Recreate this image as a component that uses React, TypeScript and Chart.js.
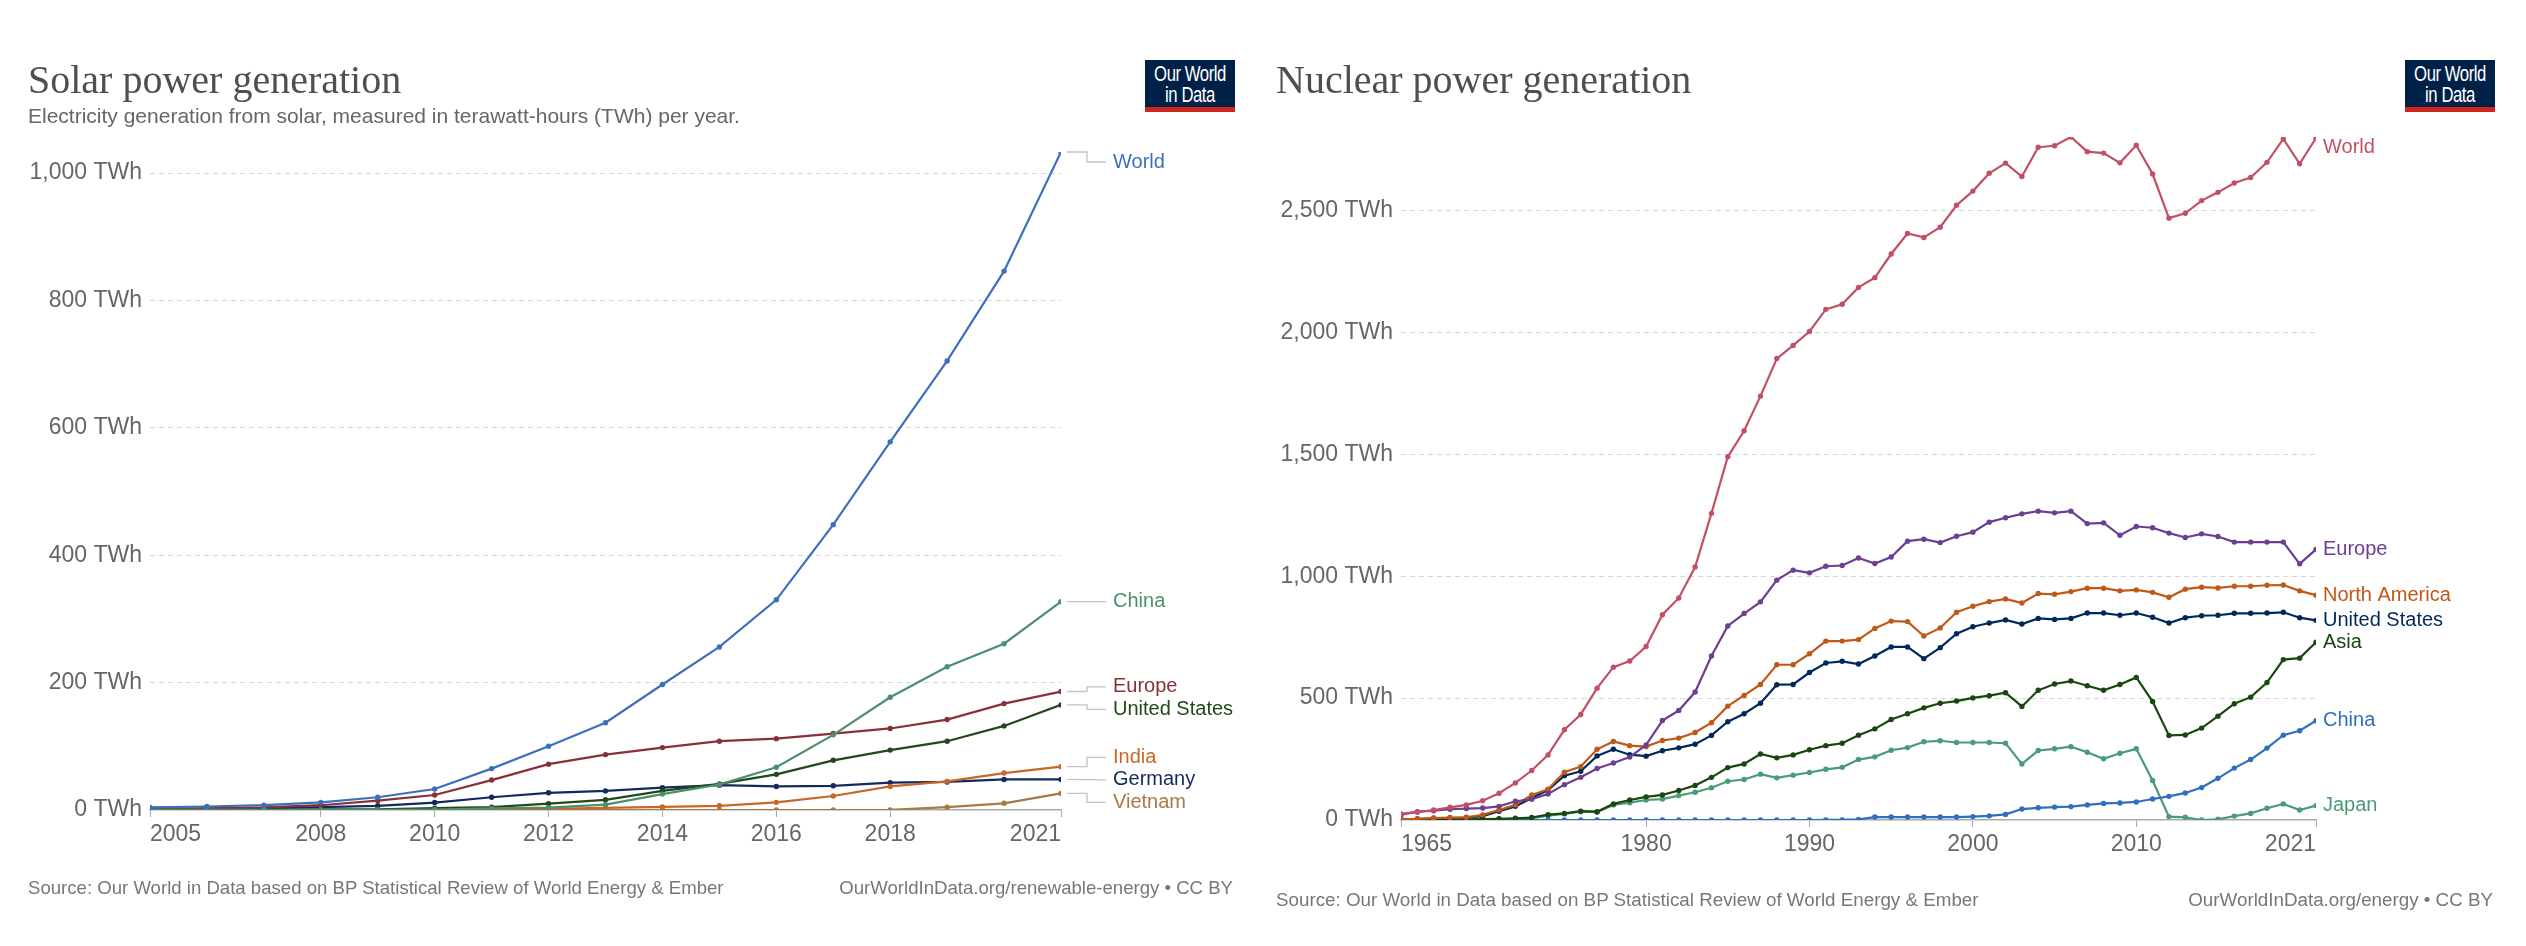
import React, { useEffect, useRef } from "react";
import { Chart, registerables } from "chart.js";

Chart.register(...registerables);

const SANS = '"Liberation Sans", Arial, Helvetica, sans-serif';
const SERIF = '"Liberation Serif", "Times New Roman", serif';

// ---------------- Solar data ----------------
const solarYears = [2005, 2006, 2007, 2008, 2009, 2010, 2011, 2012, 2013, 2014, 2015, 2016, 2017, 2018, 2019, 2020, 2021];
const solarTicks = [2005, 2008, 2010, 2012, 2014, 2016, 2018, 2021];
const solarYTicks = [0, 200, 400, 600, 800, 1000];
const solarWorld = [4, 5.5, 7.6, 12, 20, 33, 65, 100, 137, 197, 256, 330, 448, 578, 705, 846, 1033];
const solarChina = [0.1, 0.1, 0.1, 0.2, 0.3, 0.7, 2.6, 3.6, 8.4, 25, 40, 67, 118, 177, 225, 261, 327];
const solarEurope = [1.5, 2.6, 4, 7.5, 14.6, 23.5, 47, 72, 87, 98, 108, 112, 120, 128, 142, 167, 186];
const solarUS = [0.6, 0.7, 0.8, 0.9, 1.2, 3, 4.5, 10, 16, 30, 41, 56, 78, 94, 108, 132, 165];
const solarIndia = [0, 0, 0, 0, 0, 0.1, 0.6, 2, 3.4, 4.9, 6.6, 12, 22, 37, 45, 58, 68];
const solarGermany = [1.3, 2.2, 3.1, 4.4, 6.6, 11.7, 20, 27, 30, 35, 39, 37, 38, 43, 44, 48, 48];
const solarVietnam = [0, 0, 0, 0, 0, 0, 0, 0, 0, 0, 0, 0, 0, 0.1, 4.5, 10.5, 26];

// ---------------- Nuclear data ----------------
const nuclearYears = [
  1965, 1966, 1967, 1968, 1969, 1970, 1971, 1972, 1973, 1974,
  1975, 1976, 1977, 1978, 1979, 1980, 1981, 1982, 1983, 1984,
  1985, 1986, 1987, 1988, 1989, 1990, 1991, 1992, 1993, 1994,
  1995, 1996, 1997, 1998, 1999, 2000, 2001, 2002, 2003, 2004,
  2005, 2006, 2007, 2008, 2009, 2010, 2011, 2012, 2013, 2014,
  2015, 2016, 2017, 2018, 2019, 2020, 2021,
];
const nuclearTicks = [1965, 1980, 1990, 2000, 2010, 2021];
const nuclearYTicks = [0, 500, 1000, 1500, 2000, 2500];
const nuclearWorld = [
  25, 32, 41, 52, 62, 79, 110, 152, 203, 267,
  370, 433, 541, 627, 652, 712, 842, 911, 1038, 1258,
  1490, 1597, 1739, 1893, 1947, 2004, 2095, 2116, 2185, 2225,
  2322, 2406, 2390, 2432, 2522, 2580, 2653, 2695, 2640, 2760,
  2766, 2802, 2742, 2736, 2696, 2768, 2650, 2469, 2489, 2541,
  2575, 2613, 2636, 2698, 2794, 2692, 2798,
];
const nuclearEurope = [
  22, 34, 38, 44, 47, 49, 56, 77, 85, 107,
  145, 175, 211, 234, 258, 308, 408, 449, 525, 673,
  796, 847, 895, 984, 1025, 1014, 1041, 1044, 1075, 1052,
  1079, 1144, 1152, 1138, 1164, 1181, 1222, 1240, 1256, 1267,
  1260, 1267, 1216, 1219, 1168, 1204, 1199, 1177, 1159, 1174,
  1163, 1140, 1140, 1140, 1140, 1051, 1110,
];
const nuclearNorthAmerica = [
  4, 5, 8, 10, 11, 21, 41, 62, 103, 126,
  196, 219, 290, 322, 305, 301, 326, 336, 359, 399,
  467, 511, 556, 637, 637, 682, 734, 734, 740, 786,
  816, 814, 755, 788, 852, 877, 896, 907, 890, 929,
  926, 937, 951, 951, 940, 944, 934, 914, 947, 955,
  952, 959, 959, 963, 964, 940, 922,
];
const nuclearUS = [
  3, 4, 7, 8, 10, 16, 36, 56, 90, 123,
  182, 200, 263, 290, 268, 262, 284, 296, 311, 347,
  403, 436, 479, 555, 556, 605, 644, 651, 640, 673,
  710, 710, 662, 707, 764, 793, 808, 821, 804, 827,
  823, 827, 849, 849, 840, 849, 832, 808, 830, 838,
  840, 848, 848, 849, 852, 830, 819,
];
const nuclearAsia = [
  1, 1, 1, 3, 3, 4, 5, 7, 10, 22,
  27, 36, 34, 66, 82, 95, 103, 121, 142, 175,
  215, 230, 271, 255, 267, 288, 305, 315, 348, 374,
  412, 436, 460, 479, 488, 501, 510, 522, 466, 532,
  558, 570, 551, 532, 556, 585, 486, 347, 349, 377,
  426, 477, 504, 564, 658, 664, 729,
];
const nuclearChina = [
  0, 0, 0, 0, 0, 0, 0, 0, 0, 0,
  0, 0, 0, 0, 0, 0, 0, 0, 0, 0,
  0, 0, 0, 0, 0, 0, 0.5, 0.5, 2.5, 12,
  12, 12, 12, 12, 12, 14, 17, 23, 45, 50,
  53, 55, 62, 68, 70, 74, 86, 97, 111, 133,
  171, 213, 248, 295, 348, 366, 407,
];
const nuclearJapan = [
  0, 0, 0, 0, 1, 3, 4, 5, 8, 18,
  25, 34, 32, 62, 71, 82, 86, 100, 114, 132,
  159, 166, 188, 173, 184, 195, 208, 216, 248, 259,
  286, 297, 321, 325, 318, 318, 318, 315, 230, 285,
  292, 301, 278, 251, 274, 292, 162, 14, 11, 0,
  3, 16, 27, 48, 66, 41, 59,
];

type Series = { label: string; color: string; values: number[] };

const solarSeries: Series[] = [
  { label: "World", color: "#3d6fbf", values: solarWorld },
  { label: "China", color: "#4c8f6e", values: solarChina },
  { label: "Europe", color: "#883039", values: solarEurope },
  { label: "United States", color: "#22491a", values: solarUS },
  { label: "India", color: "#c8672a", values: solarIndia },
  { label: "Germany", color: "#14295e", values: solarGermany },
  { label: "Vietnam", color: "#a57a45", values: solarVietnam },
];

const nuclearSeries: Series[] = [
  { label: "World", color: "#c15065", values: nuclearWorld },
  { label: "Europe", color: "#6d3e91", values: nuclearEurope },
  { label: "North America", color: "#c05917", values: nuclearNorthAmerica },
  { label: "United States", color: "#00295b", values: nuclearUS },
  { label: "Asia", color: "#18470f", values: nuclearAsia },
  { label: "China", color: "#2f6fc0", values: nuclearChina },
  { label: "Japan", color: "#4c9a78", values: nuclearJapan },
];

type LabelOpts = {
  connector: boolean;
  textOffset: number;
  gap: number;
  topOffset: number;
  fontSize: number;
};

function makeEndLabels(opts: LabelOpts) {
  return {
    id: "endLabels",
    afterDatasetsDraw(chart: any) {
      const { ctx, chartArea } = chart;
      const gap = opts.gap;
      const minY = chartArea.top + opts.topOffset;
      const maxY = chartArea.bottom;
      const items = chart.data.datasets
        .map((ds: any, i: number) => {
          const meta = chart.getDatasetMeta(i);
          const el = meta.data[meta.data.length - 1];
          return { text: ds.label, color: ds.borderColor, px: el.x, py: el.y, y: el.y };
        })
        .sort((a: any, b: any) => a.py - b.py);
      let clusters: any[] = items.map((it: any) => ({ items: [it] }));
      const place = (c: any) => {
        const n = c.items.length;
        const mean = c.items.reduce((s: number, it: any) => s + it.py, 0) / n;
        let start = mean - ((n - 1) * gap) / 2;
        start = Math.max(minY, Math.min(start, maxY - (n - 1) * gap));
        return start;
      };
      let merged = true;
      while (merged) {
        merged = false;
        for (let i = 0; i < clusters.length - 1; i++) {
          const a = clusters[i];
          const b = clusters[i + 1];
          const aEnd = place(a) + (a.items.length - 1) * gap;
          if (place(b) - aEnd < gap) {
            clusters.splice(i, 2, { items: a.items.concat(b.items) });
            merged = true;
            break;
          }
        }
      }
      clusters.forEach((c: any) => {
        const s = place(c);
        c.items.forEach((it: any, k: number) => (it.y = s + k * gap));
      });
      ctx.save();
      ctx.font = `${opts.fontSize}px ${SANS}`;
      ctx.textBaseline = "middle";
      ctx.textAlign = "left";
      items.forEach((it: any) => {
        if (opts.connector) {
          ctx.strokeStyle = "#c4c4c4";
          ctx.lineWidth = 1.3;
          ctx.beginPath();
          ctx.moveTo(it.px + 6, it.py);
          if (Math.abs(it.y - it.py) > 0.5) {
            ctx.lineTo(it.px + 26, it.py);
            ctx.lineTo(it.px + 26, it.y);
          }
          ctx.lineTo(it.px + 45, it.y);
          ctx.stroke();
        }
        ctx.fillStyle = it.color;
        ctx.fillText(it.text, it.px + opts.textOffset, it.y);
      });
      ctx.restore();
    },
  };
}

type ChartProps = {
  left: number;
  width: number;
  height: number;
  years: number[];
  ticks: number[];
  yTicks: number[];
  series: Series[];
  padTop: number;
  padRight: number;
  yAxisWidth: number;
  xAxisHeight: number;
  labels: LabelOpts;
};

function OwidLineChart(p: ChartProps) {
  const ref = useRef<HTMLCanvasElement | null>(null);
  useEffect(() => {
    if (!ref.current) return;
    const maxVal = Math.max(...p.series.flatMap((s) => s.values));
    const chart = new Chart(ref.current, {
      type: "line",
      data: {
        datasets: p.series.map((s) => ({
          label: s.label,
          data: p.years.map((yr, i) => ({ x: yr, y: s.values[i] })),
          borderColor: s.color,
          backgroundColor: s.color,
          borderWidth: 2.2,
          pointRadius: 2.7,
          pointHoverRadius: 2.7,
          pointBorderWidth: 0,
          tension: 0,
        })),
      },
      options: {
        responsive: false,
        animation: false,
        events: [],
        layout: { padding: { top: p.padTop, right: p.padRight, left: 0, bottom: 0 } },
        plugins: { legend: { display: false }, tooltip: { enabled: false } },
        scales: {
          x: {
            type: "linear",
            min: p.years[0],
            max: p.years[p.years.length - 1],
            afterBuildTicks: (s: any) => {
              s.ticks = p.ticks.map((v) => ({ value: v }));
            },
            afterFit: (s: any) => {
              s.height = p.xAxisHeight;
            },
            ticks: {
              align: "inner",
              autoSkip: false,
              maxRotation: 0,
              padding: 4,
              color: "#666",
              font: { family: SANS, size: 23 },
              callback: (v: any) => String(v),
            },
            grid: { drawOnChartArea: false, drawTicks: true, tickLength: 7, color: "#aaa", lineWidth: 1 },
            border: { display: true, color: "#aaa", width: 1.5 },
          },
          y: {
            type: "linear",
            min: 0,
            max: maxVal,
            afterBuildTicks: (s: any) => {
              s.ticks = p.yTicks.map((v) => ({ value: v }));
            },
            afterFit: (s: any) => {
              s.width = p.yAxisWidth;
            },
            ticks: {
              autoSkip: false,
              padding: 8,
              color: "#666",
              font: { family: SANS, size: 23 },
              callback: (v: any) => Number(v).toLocaleString("en-US") + " TWh",
            },
            grid: {
              drawTicks: false,
              color: (c: any) => (c.tick && c.tick.value === 0 ? "rgba(0,0,0,0)" : "#d6d6d6"),
              lineWidth: 1,
            },
            border: { display: false, dash: [5, 4] },
          },
        },
      } as any,
      plugins: [makeEndLabels(p.labels)],
    });
    return () => chart.destroy();
  }, []);
  return (
    <canvas
      ref={ref}
      width={p.width}
      height={p.height}
      style={{ position: "absolute", left: p.left, top: 0, width: p.width, height: p.height }}
    />
  );
}

function Logo({ left }: { left: number }) {
  return (
    <div
      style={{
        position: "absolute",
        left,
        top: 60,
        width: 90,
        height: 52,
        background: "#002147",
        overflow: "hidden",
      }}
    >
      <div
        style={{
          position: "absolute",
          left: -20,
          top: 3,
          width: 130,
          color: "#fff",
          fontFamily: SANS,
          fontSize: 22,
          lineHeight: "21px",
          textAlign: "center",
          letterSpacing: -0.6,
          transform: "scaleX(0.76)",
        }}
      >
        <div>Our World</div>
        <div>in Data</div>
      </div>
      <div style={{ position: "absolute", left: 0, bottom: 0, width: "100%", height: 5, background: "#ce261e" }} />
    </div>
  );
}

const textBase: React.CSSProperties = { position: "absolute", whiteSpace: "nowrap", lineHeight: 1 };

export default function App() {
  return (
    <div style={{ position: "absolute", left: 0, top: 0, width: 2526, height: 946, background: "#fff", overflow: "hidden" }}>
      <OwidLineChart
        left={0}
        width={1260}
        height={946}
        years={solarYears}
        ticks={solarTicks}
        yTicks={solarYTicks}
        series={solarSeries}
        padTop={152}
        padRight={199}
        yAxisWidth={150}
        xAxisHeight={136}
        labels={{ connector: true, textOffset: 52, gap: 22.5, topOffset: 10, fontSize: 20 }}
      />
      <OwidLineChart
        left={1260}
        width={1266}
        height={946}
        years={nuclearYears}
        ticks={nuclearTicks}
        yTicks={nuclearYTicks}
        series={nuclearSeries}
        padTop={137}
        padRight={210}
        yAxisWidth={141}
        xAxisHeight={126}
        labels={{ connector: false, textOffset: 7, gap: 22.5, topOffset: 10, fontSize: 20 }}
      />

      <div style={{ ...textBase, left: 28, top: 60, fontFamily: SERIF, fontSize: 40, color: "#4f4f4f" }}>Solar power generation</div>
      <div style={{ ...textBase, left: 28, top: 105, fontFamily: SANS, fontSize: 21, color: "#666" }}>
        Electricity generation from solar, measured in terawatt-hours (TWh) per year.
      </div>
      <Logo left={1145} />
      <div style={{ ...textBase, left: 28, top: 879, fontFamily: SANS, fontSize: 18.6, color: "#777" }}>
        Source: Our World in Data based on BP Statistical Review of World Energy &amp; Ember
      </div>
      <div style={{ ...textBase, left: 0, width: 1233, textAlign: "right", top: 879, fontFamily: SANS, fontSize: 18.6, color: "#777" }}>
        OurWorldInData.org/renewable-energy • CC BY
      </div>

      <div style={{ ...textBase, left: 1276, top: 60, fontFamily: SERIF, fontSize: 40, color: "#4f4f4f" }}>Nuclear power generation</div>
      <Logo left={2405} />
      <div style={{ ...textBase, left: 1276, top: 891, fontFamily: SANS, fontSize: 18.8, color: "#777" }}>
        Source: Our World in Data based on BP Statistical Review of World Energy &amp; Ember
      </div>
      <div style={{ ...textBase, left: 1260, width: 1233, textAlign: "right", top: 891, fontFamily: SANS, fontSize: 18.8, color: "#777" }}>
        OurWorldInData.org/energy • CC BY
      </div>
    </div>
  );
}
